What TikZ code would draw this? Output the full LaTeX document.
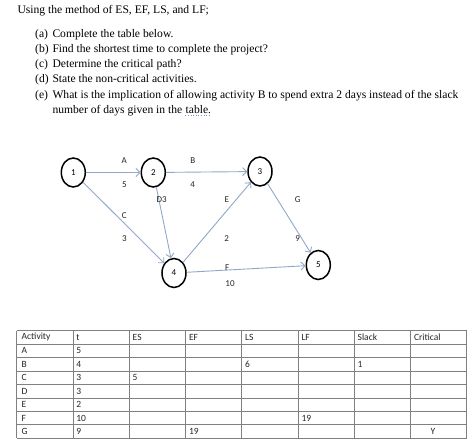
\documentclass[tikz,border=0pt]{standalone}
\usepackage{fontspec}
\setmainfont{Liberation Serif}
\newfontfamily\calfont{Carlito}
\usetikzlibrary{arrows.meta,shapes.geometric,calc}
\definecolor{edgec}{RGB}{146,168,198}
\definecolor{gridc}{RGB}{128,128,128}
\definecolor{ulc}{RGB}{120,140,200}
\begin{document}
\begin{tikzpicture}[x=1pt,y=-1pt,
  txt/.style={anchor=base west,inner sep=0pt,font=\fontsize{11.6}{14}\selectfont},
  ev/.style={draw,ellipse,line width=1.5pt,minimum width=24pt,minimum height=29pt,inner sep=0pt,font=\calfont\fontsize{9}{10}\selectfont},
  lab/.style={inner sep=0pt,font=\calfont\fontsize{9}{10}\selectfont,text=black!85},
  act/.style={draw=edgec,line width=0.9pt,-{Straight Barb[length=4pt,width=8pt,line width=0.9pt]}},
  cell/.style={anchor=west,inner sep=0pt,font=\calfont\fontsize{9.5}{11}\selectfont,text=black!85},
  gridl/.style={draw=gridc,line width=0.8pt}]
\useasboundingbox (0,0) rectangle (474,443);
\fill[white] (0,0) rectangle (474,443);
% text
\node[txt] (t0) at (17.3,14) {Using the method of ES, EF, LS, and LF;};
\node[txt] (la) at (35,37.3) {(a)};
\node[txt] (ta) at (52.3,37.3) {Complete the table below.};
\node[txt] (lb) at (35,52.6) {(b)};
\node[txt] (tb) at (52.3,52.6) {Find the shortest time to complete the project?};
\node[txt] (lc) at (35,67.8) {(c)};
\node[txt] (tc) at (52.3,67.8) {Determine the critical path?};
\node[txt] (ld) at (35,83) {(d)};
\node[txt] (td) at (52.3,83) {State the non-critical activities.};
\node[txt] (le) at (35,98.3) {(e)};
\node[txt] (te) at (52.3,98.3) {What is the implication of allowing activity B to spend extra 2 days instead of the slack};
\node[txt] (te2) at (52.3,113.4) {number of days given in the};
\node[txt] (tbl) at ([xshift=2.9pt]te2.base east) {table.};
\draw[ulc,line width=0.6pt,dotted] ($(tbl.base west)+(0,2.3)$) -- ($(tbl.base east)+(0,2.3)$);
% network
\node[ev] (n1) at (73.3,172.5) {1};
\node[ev] (n2) at (153.3,172.5) {2};
\node[ev] (n3) at (260,171.5) {3};
\node[ev] (n4) at (174,273) {4};
\node[ev] (n5) at (318.3,265) {5};
\draw[act] (n1) -- (n2);
\draw[act] (n2) -- (n3);
\draw[act] (n1) -- (n4);
\draw[act] (n2) -- (n4);
\draw[act] (n4) -- (n3);
\draw[act] (n4) -- (n5);
\draw[act] (n3) -- (n5);
\node[lab] (lA) at (124.3,160.7) {A};
\node[lab] (l5) at (124.3,185) {5};
\node[lab] (lB) at (192.7,160.7) {B};
\node[lab] (l4) at (192.7,185) {4};
\node[lab] (lD) at (161.7,200) {D3};
\node[lab] (lC) at (124.3,216) {C};
\node[lab] (l3) at (124.3,239) {3};
\node[lab] (lE) at (226.7,200) {E};
\node[lab] (l2) at (226.7,239) {2};
\node[lab] (lG) at (297.7,200) {G};
\node[lab] (l9) at (297.7,239) {9};
\node[lab] (lF) at (227.3,267.7) {F};
\node[lab] (l10) at (230,284) {10};
% table
\foreach \i in {0,...,8} {
  \draw[gridl] (16.7,330.7+13.45*\i) -- (466.7,330.7+13.45*\i);
}
\foreach \x in {16.7,72.9,129.2,185.4,241.7,297.9,354.2,410.4,466.7} {
  \draw[gridl] (\x,330.7) -- (\x,438.3);
}
\node[cell] (h1) at (21.5,337.4) {Activity};
\node[cell] (h2) at (76.2,337.4) {t};
\node[cell] (h3) at (132.5,337.4) {ES};
\node[cell] (h4) at (188.8,337.4) {EF};
\node[cell] (h5) at (245,337.4) {LS};
\node[cell] (h6) at (301.3,337.4) {LF};
\node[cell] (h7) at (357.5,337.4) {Slack};
\node[cell] (h8) at (413.8,337.4) {Critical};
\foreach \r/\a [count=\k from 1] in {A/5,B/4,C/3,D/3,E/2,F/10,G/9} {
  \node[cell] (a\k) at (21.5,337.4+13.45*\k) {\r};
  \node[cell] (d\k) at (76.2,337.4+13.45*\k) {\a};
}
\node[cell] (b5) at (245,364.3) {6};
\node[cell] (bs) at (357.5,364.3) {1};
\node[cell] (des) at (132.5,377.75) {5};
\node[cell] (flf) at (301.3,418.1) {19};
\node[cell] (gef) at (188.8,431.55) {19};
\node[cell] (gcr) at (430.5,431.55) {Y};
\end{tikzpicture}
\end{document}
